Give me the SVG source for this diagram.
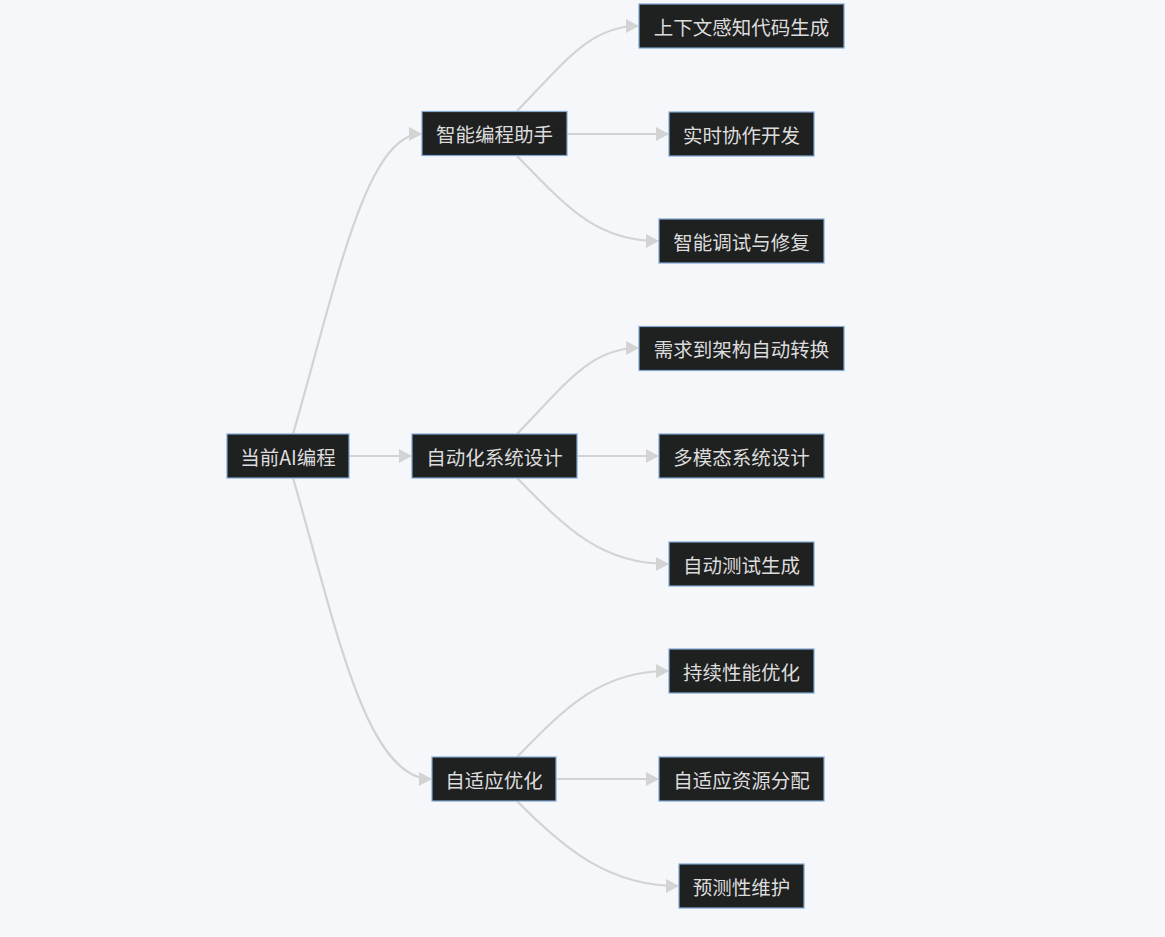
<svg xmlns="http://www.w3.org/2000/svg" width="1165" height="937" viewBox="0 0 1165 937">
<style>
.bg{fill:#f5f7fa}
.node rect{fill:#1f2020;stroke:#81a8d2;stroke-width:1.2}
.node text{fill:#dcdcdc;font-family:"Noto Sans CJK SC","Noto Sans",sans-serif;font-size:19.5px;text-anchor:middle;dominant-baseline:central}
.edge{fill:none;stroke:#d3d3d3;stroke-width:2.2}
</style>
<defs>
<marker id="arr" viewBox="0 0 13 14" refX="12" refY="7" markerWidth="13" markerHeight="14" markerUnits="userSpaceOnUse" orient="auto">
<path d="M0,0 L13,7 L0,14 z" fill="#d3d3d3"/>
</marker>
</defs>
<rect class="bg" x="0" y="0" width="1165" height="937"/>
<g id="connectors">
<path class="edge" marker-end="url(#arr)" d="M293,434 C335,290 365,134 421,134"/>
<path class="edge" marker-end="url(#arr)" d="M349,456 L411,456"/>
<path class="edge" marker-end="url(#arr)" d="M293,478 C335,622 365,779 431,779"/>
<path class="edge" marker-end="url(#arr)" d="M517,111 C565,62 590,26 638,26"/>
<path class="edge" marker-end="url(#arr)" d="M567,134 L668,134"/>
<path class="edge" marker-end="url(#arr)" d="M517,156 C565,205 595,241 658,241"/>
<path class="edge" marker-end="url(#arr)" d="M517,434 C565,385 590,348 638,348"/>
<path class="edge" marker-end="url(#arr)" d="M577,456 L658,456"/>
<path class="edge" marker-end="url(#arr)" d="M517,478 C565,527 600,564 668,564"/>
<path class="edge" marker-end="url(#arr)" d="M517,757 C565,708 600,671 668,671"/>
<path class="edge" marker-end="url(#arr)" d="M556,779 L658,779"/>
<path class="edge" marker-end="url(#arr)" d="M517,801 C565,850 610,886 678,886"/>
</g>
<g id="n0" class="node"><rect x="227" y="434" width="122" height="44"/><text x="288" y="456">当前AI编程</text></g>
<g id="n1" class="node"><rect x="422" y="111.5" width="145" height="44"/><text x="494.5" y="133.5">智能编程助手</text></g>
<g id="n2" class="node"><rect x="412" y="434" width="165" height="44"/><text x="494.5" y="456">自动化系统设计</text></g>
<g id="n3" class="node"><rect x="432" y="757" width="124" height="44"/><text x="494" y="779">自适应优化</text></g>
<g id="n4" class="node"><rect x="639" y="4" width="205" height="44"/><text x="741.5" y="26">上下文感知代码生成</text></g>
<g id="n5" class="node"><rect x="669" y="112" width="145" height="44"/><text x="741.5" y="134">实时协作开发</text></g>
<g id="n6" class="node"><rect x="659" y="219" width="165" height="44"/><text x="741.5" y="241">智能调试与修复</text></g>
<g id="n7" class="node"><rect x="639" y="326.5" width="205" height="44"/><text x="741.5" y="348.5">需求到架构自动转换</text></g>
<g id="n8" class="node"><rect x="659" y="434" width="165" height="44"/><text x="741.5" y="456">多模态系统设计</text></g>
<g id="n9" class="node"><rect x="669" y="542" width="145" height="44"/><text x="741.5" y="564">自动测试生成</text></g>
<g id="n10" class="node"><rect x="669" y="649" width="145" height="44"/><text x="741.5" y="671">持续性能优化</text></g>
<g id="n11" class="node"><rect x="659" y="757" width="165" height="44"/><text x="741.5" y="779">自适应资源分配</text></g>
<g id="n12" class="node"><rect x="679" y="864" width="125" height="44"/><text x="741.5" y="886">预测性维护</text></g>
</svg>
